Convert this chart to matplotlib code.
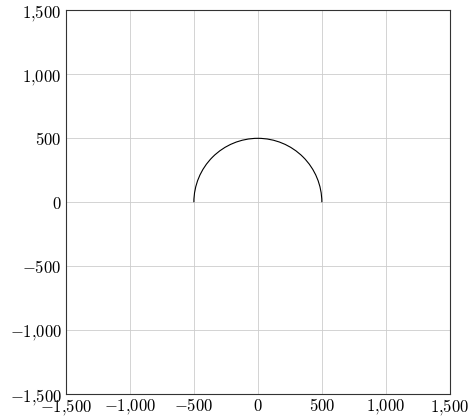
import matplotlib
matplotlib.use("Agg")
import matplotlib.pyplot as plt
from matplotlib.patches import Arc
from matplotlib.ticker import FuncFormatter

plt.rcParams['mathtext.fontset'] = 'cm'

# data
center = (0, 0)
radius = 500
theta_start, theta_end = 0, 180
ticks = [-1500, -1000, -500, 0, 500, 1000, 1500]


def fmt(v, pos):
    s = f"{abs(v):,.0f}".replace(",", "{,}")
    if v < 0:
        s = "-" + s
    return f"${s}$"


fig = plt.figure(figsize=(4.74, 4.2), dpi=100)
ax = fig.add_axes([0.139, 0.062, 0.810, 0.913])

arc = Arc(center, 2 * radius, 2 * radius, theta1=theta_start, theta2=theta_end,
          color='black', lw=0.8)
ax.add_patch(arc)

ax.set_xlim(-1500, 1500)
ax.set_ylim(-1500, 1500)
ax.set_xticks(ticks)
ax.set_yticks(ticks)
ax.xaxis.set_major_formatter(FuncFormatter(fmt))
ax.yaxis.set_major_formatter(FuncFormatter(fmt))
ax.tick_params(length=0, labelsize=12, pad=3)
ax.tick_params(axis='x', pad=2)
ax.grid(True, color='#cccccc', lw=0.6)
ax.set_axisbelow(True)
for sp in ax.spines.values():
    sp.set_linewidth(0.8)
    sp.set_color('#333333')

fig.savefig("out.png", dpi=100)
